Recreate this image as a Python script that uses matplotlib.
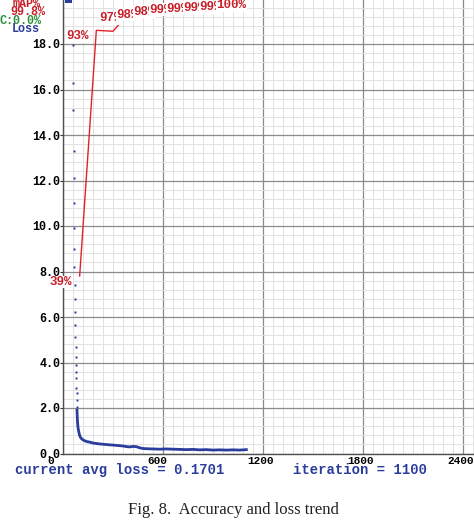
import matplotlib
matplotlib.use("Agg")
import matplotlib.pyplot as plt
import matplotlib.transforms as mtransforms
from matplotlib.patches import Rectangle
from matplotlib.ticker import MultipleLocator

# first iterations: loss drops fast, drawn as separate dots
early_iters = [58, 60, 61, 63, 64, 65, 66, 67, 68, 69, 70, 71, 72, 74, 75, 76, 77, 78, 79, 80, 81, 82, 83]
early_loss = [17.96, 16.3, 15.1, 13.3, 12.1, 11.0, 9.9, 9.0, 8.2, 7.4, 6.8, 6.2, 5.65, 5.1, 4.7, 4.25,
              3.9, 3.6, 3.3, 2.9, 2.65, 2.35, 2.05]

# dense part of the loss curve
tail_iters = [84, 85, 86, 87, 88, 90, 92, 95, 98, 102, 106, 110, 120, 130, 145, 160, 180, 200, 220, 250,
              280, 300, 330, 360, 384, 400, 420, 440, 460, 480, 500, 540, 580, 620, 660, 700, 740, 780,
              820, 860, 900, 940, 980, 1020, 1060, 1100]
tail_loss = [1.9, 1.7, 1.55, 1.4, 1.3, 1.15, 1.05, 0.95, 0.85, 0.75, 0.7, 0.66, 0.6, 0.56, 0.52, 0.5,
             0.46, 0.44, 0.42, 0.4, 0.38, 0.37, 0.35, 0.33, 0.3, 0.29, 0.31, 0.3, 0.25, 0.22, 0.21, 0.2,
             0.19, 0.2, 0.19, 0.18, 0.17, 0.18, 0.16, 0.17, 0.15, 0.16, 0.15, 0.16, 0.15, 0.17]

# mAP checkpoints (percent)
map_iters = [100, 200, 300, 400, 500, 600, 700, 800, 900, 1000, 1100]
map_vals = [39.0, 93.0, 92.8, 97.0, 97.8, 98.4, 98.9, 99.1, 99.3, 99.4, 99.8]
map_labeled = [True, True, False, True, True, True, True, True, True, True, True]

x_ticks = [0, 600, 1200, 1800, 2400]
y_ticks = [0, 2, 4, 6, 8, 10, 12, 14, 16, 18]

RED = "#e0222c"
TXT_RED = "#c8202a"
BLUE = "#2a3c9c"
GREEN = "#2f8f3c"
MONO = "Liberation Mono"

W, H = 474, 522
fig = plt.figure(figsize=(W / 100, H / 100), dpi=100)
fig.patch.set_facecolor("white")

# plot area: left at x=63 px, y=0 at 453.5 px from top, 22.75 px per loss unit
ax = fig.add_axes([63 / W, (H - 453.5) / H, (W - 63) / W, 455 / H])
ax.set_xlim(0, (W - 63) * 6)
ax.set_ylim(0, 20)

ax.xaxis.set_major_locator(MultipleLocator(600))
ax.xaxis.set_minor_locator(MultipleLocator(60))
ax.yaxis.set_major_locator(MultipleLocator(2))
ax.yaxis.set_minor_locator(MultipleLocator(0.4))
ax.grid(which="minor", color="#e2e2e2", lw=0.7, zorder=0)
ax.grid(which="major", color="#8a8a8a", lw=0.9, zorder=0)
ax.set_axisbelow(True)

ax.set_xticks(x_ticks)
ax.set_xticklabels([str(t) for t in x_ticks], fontfamily=MONO, fontweight="bold", fontsize=8)
ax.set_yticks(y_ticks)
ax.set_yticklabels(["%.1f" % t for t in y_ticks], fontfamily=MONO, fontweight="bold", fontsize=8.5)
ax.tick_params(axis="x", which="both", length=0, pad=1.5)
ax.tick_params(axis="y", which="major", length=2, pad=0, color="#333333")
ax.tick_params(axis="y", which="minor", length=0)

# x labels sit left-aligned, shifted left of their grid line
shift = mtransforms.ScaledTranslation(-16 / 100, 0, fig.dpi_scale_trans)
for lab in ax.get_xticklabels():
    lab.set_horizontalalignment("left")
    lab.set_transform(lab.get_transform() + shift)

for side in ["top", "right"]:
    ax.spines[side].set_visible(False)
for side in ["left", "bottom"]:
    ax.spines[side].set_color("#505050")
    ax.spines[side].set_linewidth(1.0)

# loss
ax.plot(early_iters, early_loss, ls="none", marker="s", ms=1.6, color=BLUE, mec="none", zorder=3)
ax.plot(tail_iters, tail_loss, color=BLUE, lw=2.0, zorder=3)

# mAP on the same axis, 100% = top of the chart
map_y = [v * 20 / 100 for v in map_vals]
ax.plot(map_iters, map_y, color=RED, lw=1.0, zorder=4)

z = 5
for it, v, y, show in zip(map_iters, map_vals, map_y, map_labeled):
    if not show:
        continue
    ax.annotate("%2.0f%%" % v, xy=(it, y), xytext=(-30 * 0.72, -9 * 0.72), textcoords="offset points",
                ha="left", va="baseline", color=TXT_RED, fontfamily=MONO, fontweight="bold",
                fontsize=9, zorder=z, annotation_clip=False,
                bbox=dict(facecolor="white", edgecolor="none", pad=0.3))
    z += 1


# legend texts at top left, positions in pixels from the top-left corner
def px_text(x, y, s, color, size=8.5):
    fig.text(x / W, 1 - y / H, s, color=color, fontfamily=MONO, fontweight="bold",
             fontsize=size, ha="left", va="baseline")


px_text(13, 7, "mAP%", TXT_RED)
px_text(10, 15, "99.8%", TXT_RED)
px_text(0, 24, "C:0.0%", GREEN)
px_text(12, 32, "Loss", BLUE)
fig.add_artist(Rectangle((65 / W, 1 - 3 / H), 7 / W, 3 / H, transform=fig.transFigure,
                         facecolor=BLUE, edgecolor="none"))

# status line under the chart
px_text(15, 474, "current avg loss = 0.1701", BLUE, size=10)
px_text(293, 474, "iteration = 1100", BLUE, size=10)

fig.text(233 / W, 1 - 510 / H, "Fig. 8.  Accuracy and loss trend", fontfamily="Liberation Serif",
         fontsize=12, ha="center", va="center", color="#222222")

fig.savefig("out.png", dpi=100)
